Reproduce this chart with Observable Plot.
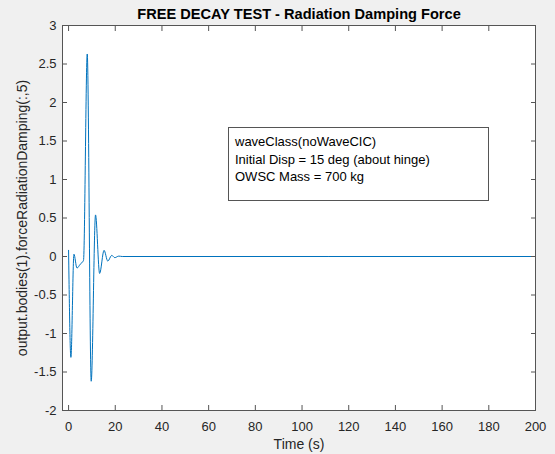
<!DOCTYPE html>
<html>
<head>
<meta charset="utf-8">
<script src="https://cdn.jsdelivr.net/npm/d3@7"></script>
<script src="https://cdn.jsdelivr.net/npm/@observablehq/plot@0.6"></script>
<style>
  body { margin: 0; background: #f0f0f0; }
  #chart { position: relative; width: 555px; height: 454px; font-family: "Liberation Sans", Arial, sans-serif; }
  #note {
    position: absolute; left: 228px; top: 127px; width: 261px; height: 74px;
    box-sizing: border-box; border: 1px solid #555; background: #fff;
    padding: 5px 0 0 6px; font-size: 13px; line-height: 17.5px; color: #000;
  }
</style>
</head>
<body>
<div id="chart"></div>
<script>
// values (extremes of the decay trace)
const time  = [0, 1.0, 2.3, 3.6, 5.0, 6.4, 8.0, 9.7, 11.55, 13.3, 15.2, 16.8, 18.5, 19.8, 21.5, 23, 200];
const force = [0.08, -1.31, 0.03, -0.15, -0.10, -0.05, 2.63, -1.62, 0.54, -0.22, 0.08, -0.06, 0.015, -0.015, 0.005, 0, 0];

const xTicks = [0, 20, 40, 60, 80, 100, 120, 140, 160, 180, 200];
const yTicks = [-2, -1.5, -1, -0.5, 0, 0.5, 1, 1.5, 2, 2.5, 3];

const title = "FREE DECAY TEST - Radiation Damping Force";
const xLabel = "Time (s)";
const yLabel = "output.bodies(1).forceRadiationDamping(:,5)";
const noteLines = ["waveClass(noWaveCIC)", "Initial Disp = 15 deg (about hinge)", "OWSC Mass = 700 kg"];

const rows = time.map((t, i) => ({t, v: force[i]}));
const axisCol = "#262626";
const tickOpts = {tickSize: -5, fill: "none", label: null, stroke: "#555"};

const chart = Plot.plot({
  width: 555,
  height: 454,
  marginLeft: 62,
  marginRight: 20,
  marginTop: 25,
  marginBottom: 44,
  style: {background: "#f0f0f0", fontFamily: "Liberation Sans, Arial, sans-serif", fontSize: "13px", color: axisCol},
  x: {domain: [-2.6, 200]},
  y: {domain: [-2, 3]},
  marks: [
    Plot.frame({fill: "white"}),
    Plot.line(rows, {x: "t", y: "v", stroke: "#0072BD", strokeWidth: 1, curve: "monotone-x"}),
    // inward ticks on all four sides
    Plot.axisX({ticks: xTicks, anchor: "bottom", ...tickOpts}),
    Plot.axisX({ticks: xTicks, anchor: "top", ...tickOpts}),
    Plot.axisY({ticks: yTicks, anchor: "left", ...tickOpts}),
    Plot.axisY({ticks: yTicks, anchor: "right", ...tickOpts}),
    // labels
    Plot.axisX({ticks: xTicks, anchor: "bottom", tickSize: 0, tickPadding: 11, label: null, tickFormat: (d) => String(d), fill: axisCol}),
    Plot.axisY({ticks: yTicks, anchor: "left", tickSize: 0, tickPadding: 6, label: null, tickFormat: (d) => String(d), fill: axisCol}),
    Plot.frame({stroke: "#555"}),
    Plot.text([title], {frameAnchor: "top", dy: -11, lineAnchor: "middle", fontWeight: "bold", fontSize: 14.6, fill: "#000"}),
    Plot.text([xLabel], {frameAnchor: "bottom", dy: 34, lineAnchor: "middle", fontSize: 14, fill: axisCol}),
    Plot.text([yLabel], {frameAnchor: "left", dx: -40, rotate: -90, textAnchor: "middle", lineAnchor: "middle", fontSize: 14, fill: axisCol})
  ]
});

const holder = d3.select("#chart");
holder.append(() => chart);
holder.append("div").attr("id", "note").html(noteLines.join("<br>"));
</script>
</body>
</html>
